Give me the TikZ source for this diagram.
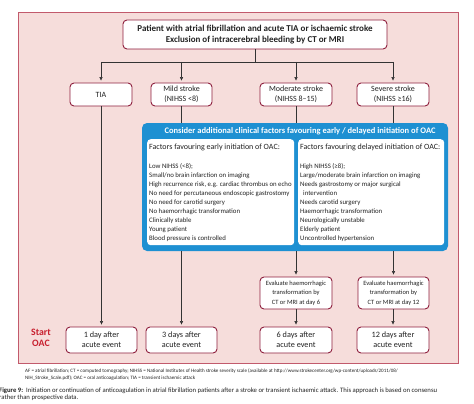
\documentclass[tikz,border=0pt]{standalone}
\usepackage{fontspec}
\setmainfont{Carlito}
\usetikzlibrary{arrows.meta}
\definecolor{pinkbg}{HTML}{F6DDDB}
\definecolor{pinkborder}{HTML}{C25A6C}
\definecolor{boxborder}{HTML}{8E1F3D}
\definecolor{bluebox}{HTML}{1E90D2}
\definecolor{startred}{HTML}{C8202F}
\definecolor{linec}{HTML}{333333}
\definecolor{txt}{HTML}{222222}
\begin{document}
\begin{tikzpicture}[x=1pt,y=-1pt,
  box/.style={draw=boxborder, line width=0.9pt, fill=white, rounded corners=4pt,
    inner sep=0pt, align=center, text=txt},
  stroke/.style={box, minimum height=23pt, font=\fontsize{8}{9.5}\selectfont},
  evalbox/.style={box, minimum height=32pt, font=\fontsize{6.5}{9.5}\selectfont},
  daybox/.style={box, minimum height=26pt, font=\fontsize{8.2}{10}\selectfont},
  conn/.style={draw=linec, line width=0.6pt},
  arr/.style={conn, -{Triangle[length=3.5pt,width=3.2pt]}, shorten >=2pt},
  item/.style={anchor=base west, inner sep=0pt, text=txt, font=\fontsize{6.8}{9}\selectfont},
  head/.style={anchor=base west, inner sep=0pt, text=txt, font=\fontsize{8}{9}\selectfont},
  note/.style={anchor=base west, inner sep=0pt, text=txt, font=\fontsize{5.05}{6}\selectfont},
  captxt/.style={anchor=base west, inner sep=0pt, text=txt, font=\fontsize{6.7}{7}\selectfont}
]
\useasboundingbox (0,0) rectangle (474,404);
\clip (0,0) rectangle (474,404);
\fill[white] (0,0) rectangle (474,404);
% pink panel
\draw[fill=pinkbg, draw=pinkborder, line width=0.8pt] (18,12) rectangle (458,363);

% top box
\node[box, minimum width=264pt, minimum height=29pt,
  font=\bfseries\fontsize{9}{10.5}\selectfont] (top) at (255,34.5)
  {Patient with atrial fibrillation and acute TIA or ischaemic stroke\\Exclusion of intracerebral bleeding by CT or MRI};

% stroke boxes
\node[stroke, minimum width=62pt] (tia) at (101,94.5) {TIA};
\node[stroke, minimum width=61pt] (mild) at (181.5,94.5) {Mild stroke\\(NIHSS <8)};
\node[stroke, minimum width=72pt] (mod) at (296,94.5) {Moderate stroke\\(NIHSS 8–15)};
\node[stroke, minimum width=72pt] (sev) at (393,94.5) {Severe stroke\\(NIHSS ≥16)};

% branching connectors
\coordinate (j) at (255,62);
\coordinate (jl) at (101,62);
\coordinate (jr) at (393,62);
\draw[conn] (top.south) -- (j);
\draw[conn] (jl) -- (jr);
\draw[arr] (jl) -- (tia.north);
\draw[arr] (mild.north |- j) -- (mild.north);
\draw[arr] (mod.north |- j) -- (mod.north);
\draw[arr] (jr) -- (sev.north);

% blue box
\node[fill=bluebox, rounded corners=5pt, minimum width=306pt, minimum height=128pt, inner sep=0pt] (blue) at (295,187) {};
\node[text=white, inner sep=0pt, font=\bfseries\fontsize{8.5}{9}\selectfont] (bluetitle) at (300,131.5)
  {Consider additional clinical factors favouring early / delayed initiation of OAC};
\node[fill=white, rounded corners=3.5pt, minimum width=147pt, minimum height=106pt, inner sep=0pt, anchor=north west] (early) at (147,139) {};
\node[fill=white, rounded corners=3.5pt, minimum width=146pt, minimum height=106pt, inner sep=0pt, anchor=north west] (late) at (298,139) {};

\node[head] (eh) at (149,149.5) {Factors favouring early initiation of OAC:};
\node[head] (lh) at (300,149.5) {Factors favouring delayed initiation of OAC:};
\foreach [count=\i] \t in {{Low NIHSS (<8);},{Small/no brain infarction on imaging},
  {High recurrence risk, e.g. cardiac thrombus on echo},
  {No need for percutaneous endoscopic gastrostomy},{No need for carotid surgery},
  {No haemorrhagic transformation},{Clinically stable},{Young patient},
  {Blood pressure is controlled}}
  \node[item] (e\i) at (149,{168.5+9*(\i-1)}) {\t};
\foreach [count=\i] \t in {{High NIHSS (≥8);},{Large/moderate brain infarction on imaging},
  {Needs gastrostomy or major surgical},{\hspace*{3pt}intervention},
  {Needs carotid surgery},{Haemorrhagic transformation},{Neurologically unstable},
  {Elderly patient},{Uncontrolled hypertension}}
  \node[item] (l\i) at (300,{168.5+9*(\i-1)}) {\t};

% evaluate boxes
\node[evalbox, minimum width=72pt] (ev6) at (296,293) {Evaluate haemorrhagic\\transformation by\\CT or MRI at day 6};
\node[evalbox, minimum width=71pt] (ev12) at (393.5,293) {Evaluate haemorrhagic\\transformation by\\CT or MRI at day 12};

% day boxes
\node[daybox, minimum width=71pt] (d1) at (101.5,340) {1 day after\\acute event};
\node[daybox, minimum width=71pt] (d3) at (181.5,340) {3 days after\\acute event};
\node[daybox, minimum width=72pt] (d6) at (296,340) {6 days after\\acute event};
\node[daybox, minimum width=72pt] (d12) at (393,340) {12 days after\\acute event};

\node[text=startred, align=center, inner sep=0pt, font=\bfseries\fontsize{9.8}{11}\selectfont] (start) at (41,338) {Start\\OAC};

% vertical connectors
\draw[arr] (tia.south -| d1.north) -- (d1.north);
\draw[conn] (mild.south) -- (mild.south |- blue.north);
\draw[conn] (mod.south) -- (mod.south |- blue.north);
\draw[conn] (sev.south) -- (sev.south |- blue.north);
\draw[arr] (blue.south -| d3.north) -- (d3.north);
\draw[arr] (blue.south -| ev6.north) -- (ev6.north);
\draw[arr] (blue.south -| ev12.north) -- (ev12.north);
\draw[arr] (ev6.south) -- (d6.north);
\draw[arr] (ev12.south -| d12.north) -- (d12.north);

% notes
\node[note] (n1) at (25,372) {AF = atrial fibrillation; CT = computed tomography; NIHSS = National Institutes of Health stroke severity scale (available at http://www.strokecenter.org/wp-content/uploads/2011/08/};
\node[note] (n2) at (25,379) {NIH\_Stroke\_Scale.pdf); OAC = oral anticoagulation; TIA = transient ischaemic attack};
\node[captxt] (cap1) at (-1,392)
  {\textbf{Figure 9:}\ \ Initiation or continuation of anticoagulation in atrial fibrillation patients after a stroke or transient ischaemic attack. This approach is based on consensu};
\node[captxt] (cap2) at (-1,399.5)
  {rather than prospective data.};
\end{tikzpicture}
\end{document}
